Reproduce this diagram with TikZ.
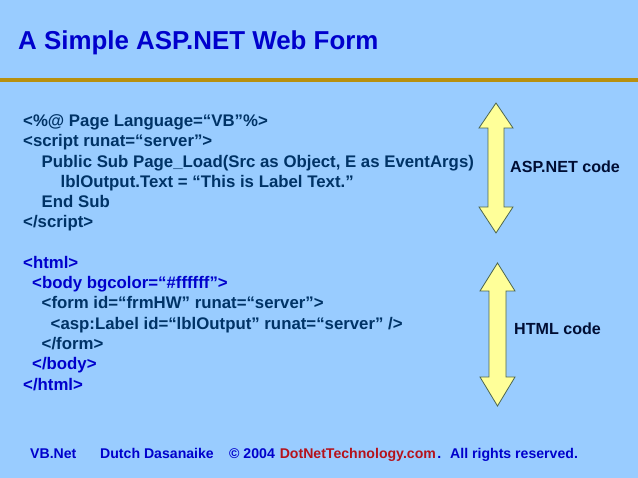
\documentclass[tikz,border=0pt]{standalone}
\usepackage{fontspec}
\setmainfont{Liberation Sans}
\definecolor{slidebg}{HTML}{99CCFF}
\definecolor{rulegold}{HTML}{B8900F}
\definecolor{titleblue}{HTML}{0000CC}
\definecolor{codeblue}{HTML}{003366}
\definecolor{htmlblue}{HTML}{0000CC}
\definecolor{labelnavy}{HTML}{000D33}
\definecolor{arrowyellow}{HTML}{FFFF99}
\definecolor{arrowedge}{HTML}{4D6650}
\definecolor{linkred}{HTML}{B5121B}
\tikzset{
  titletext/.style={anchor=base west,inner sep=0pt,text=titleblue,font=\fontsize{25.9}{30}\selectfont\bfseries},
  codetext/.style={anchor=base west,inner sep=0pt,text=codeblue,font=\fontsize{16.8}{20}\selectfont\bfseries},
  tagtext/.style={codetext,text=htmlblue},
  labeltext/.style={anchor=base west,inner sep=0pt,text=labelnavy,font=\fontsize{16.1}{20}\selectfont\bfseries},
  foottext/.style={anchor=base west,inner sep=0pt,text=htmlblue,font=\fontsize{14.1}{18}\selectfont\bfseries},
  dblarrow/.style={fill=arrowyellow,draw=arrowedge,line width=0.8pt,line join=miter}
}
\begin{document}
\begin{tikzpicture}[x=1pt,y=-1pt]
\useasboundingbox (0,0) rectangle (638,478);
\fill[slidebg] (0,0) rectangle (638,478);
\fill[rulegold] (0,78) rectangle (638,82);
\node[titletext] (title) at (18,49.5) {A Simple ASP.NET Web Form};
\node[codetext] (c1) at (23,127) {<\%@ Page Language=“VB”\%>};
\node[codetext] (c2) at (23,147) {<script runat=“server”>};
\node[codetext] (c3) at (41.5,167.5) {Public Sub Page\_Load(Src as Object, E as EventArgs)};
\node[codetext] (c4) at (60.5,188) {lblOutput.Text = “This is Label Text.”};
\node[codetext] (c5) at (41.5,208) {End Sub};
\node[codetext] (c6) at (23,228) {</script>};
\node[tagtext] (h1) at (23,269) {<html>};
\node[tagtext] (h2) at (32,289) {<body bgcolor=“\#ffffff”>};
\node[codetext] (h3) at (41.5,309) {<form id=“frmHW” runat=“server”>};
\node[codetext] (h4) at (50.5,330) {<asp:Label id=“lblOutput” runat=“server” />};
\node[codetext] (h5) at (41.5,350) {</form>};
\node[tagtext] (h6) at (32,370) {</body>};
\node[tagtext] (h7) at (23,391) {</html>};
\draw[dblarrow] (496,103) -- (513,128) -- (504,128) -- (504,207) -- (513,207) -- (496,233) -- (479,207) -- (488,207) -- (488,128) -- (479,128) -- cycle;
\draw[dblarrow] (497.5,263) -- (515,291) -- (506,291) -- (506,377) -- (515,377) -- (497.5,406) -- (480,377) -- (489,377) -- (489,291) -- (480,291) -- cycle;
\node[labeltext] (l1) at (510,172.5) {ASP.NET code};
\node[labeltext] (l2) at (514,334.5) {HTML code};
\node[foottext] (f1) at (30,458.5) {VB.Net};
\node[foottext] (f2) at (100,458.5) {Dutch Dasanaike};
\node[foottext] (f3) at (229,458.5) {© 2004 \hspace{1pt}\textcolor{linkred}{DotNetTechnology.com}\hspace{1.5pt}.};
\node[foottext] (f4) at (450,458.5) {All rights reserved.};
\end{tikzpicture}
\end{document}
